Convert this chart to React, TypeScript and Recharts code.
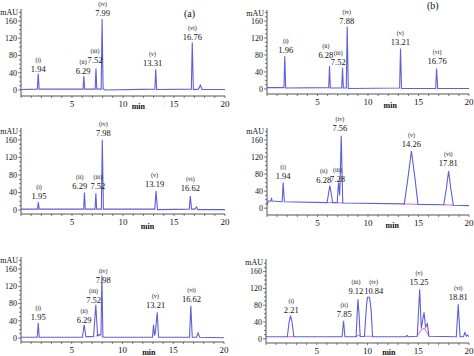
import { LineChart, Line, XAxis, YAxis, ReferenceDot } from "recharts";

const FONT = "'Liberation Serif', 'Times New Roman', serif";
const TRACE = "#5f5fd8";
const PINK = "#e060e0";
const AXIS = "#555";
const INK = "#111";

const xTicks = [0, 1, 2, 3, 4, 5, 6, 7, 8, 9, 10, 11, 12, 13, 14, 15, 16, 17, 18, 19, 20];
const yTicks = [0, 10, 20, 30, 40, 50, 60, 70, 80, 90, 100, 110, 120, 130, 140, 150, 160, 170, 180];
const peakTags = ["(i)", "(ii)", "(iii)", "(iv)", "(v)", "(vi)"];

// (a) top left
const timeA = [0, 1.6, 1.69, 1.78, 6.08, 6.16, 6.24, 7.27, 7.35, 7.43, 7.86, 7.95, 8.05, 8.2, 13.12, 13.21, 13.3, 16.7, 16.79, 16.9, 17.4, 17.58, 17.75, 20];
const mauA = [1, 2, 38, 2, 2, 32, 2, 2, 50, 2, 2, 165, 3, 0, 2, 48, 1, 2, 110, 1, 2, 11, 1, 1];
const rtA = ["1.94", "6.29", "7.52", "7.99", "13.31", "16.76"];
const labelTimeA = [1.69, 6.09, 7.25, 8.0, 12.9, 16.8];
const labelMauA = [42, 38, 62, 172, 56, 115];

// (b) top right
const timeB = [0, 1.68, 1.76, 1.85, 6.11, 6.19, 6.27, 7.4, 7.48, 7.56, 7.85, 7.94, 8.05, 13.13, 13.22, 13.32, 16.7, 16.79, 16.9, 20];
const mauB = [3, 3, 77, 2, 3, 54, 2, 2, 50, 2, 2, 147, 1, 2, 95, 1, 1, 48, 1, 1];
const rtB = ["1.96", "6.28", "7.52", "7.88", "13.21", "16.76"];
const labelTimeB = [1.86, 5.83, 7.05, 7.9, 13.2, 16.85];
const labelMauB = [85, 73, 56, 154, 103, 58];

// middle left
const timeC = [0, 1.62, 1.7, 1.78, 6.14, 6.22, 6.3, 7.26, 7.34, 7.42, 7.88, 7.97, 8.08, 13.12, 13.24, 13.38, 16.5, 16.6, 16.72, 17.05, 17.2, 17.35, 20];
const mauC = [2, 2, 18, 2, 2, 40, 2, 2, 38, 2, 2, 160, 2, 2, 44, 1, 2, 32, 2, 2, 7, 1, 1];
const rtC = ["1.95", "6.29", "7.52", "7.98", "13.19", "16.62"];
const labelTimeC = [1.77, 5.76, 7.54, 8.07, 13.1, 16.6];
const labelMauC = [25, 49, 47, 168, 53, 43];

// middle right
const timeD = [0, 0.15, 0.4, 0.45, 0.5, 1.5, 1.6, 1.72, 5.95, 6.1, 6.22, 6.35, 6.5, 6.95, 7.08, 7.2, 7.35, 7.5, 13.6, 13.95, 14.3, 14.65, 14.95, 17.5, 17.75, 17.98, 18.2, 18.45, 20];
const mauD = [8, 17, 17, 24, 17, 15, 60, 15, 13, 35, 53, 35, 13, 13, 60, 30, 170, 12, 10, 70, 134, 70, 9, 8, 45, 87, 45, 7, 6];
const pinkTimeD = [5.9, 6.6, 6.6, 6.95, 7.55, 7.55, 13.45, 14.95, 14.95, 17.45, 18.5];
const pinkMauD = [13, 13, null, 13, 12, null, 10, 9, null, 8, 7];
const rtD = ["1.94", "6.28", "7.28", "7.56", "14.26", "17.81"];
const labelTimeD = [1.6, 5.62, 6.98, 7.21, 14.3, 17.95];
const labelMauD = [69, 58, 61, 180, 143, 100];

// bottom left
const timeE = [0, 1.6, 1.7, 1.8, 6.05, 6.22, 6.4, 7.15, 7.37, 7.55, 7.8, 7.88, 7.97, 8.07, 8.2, 12.95, 13.06, 13.15, 13.22, 13.42, 13.55, 16.6, 16.73, 16.87, 17.3, 17.45, 17.6, 20];
const mauE = [2, 2, 35, 2, 2, 31, 3, 4, 77, 5, 8, 10, 145, 3, 2, 2, 31, 6, 10, 60, 2, 2, 75, 2, 2, 12, 2, 1];
const pinkTimeE = [7.35, 7.7, 8.05];
const pinkMauE = [4, 9, 3];
const rtE = ["1.95", "6.29", "7.52", "7.98", "13.21", "16.62"];
const labelTimeE = [1.7, 6.22, 7.15, 8.1, 13.26, 16.8];
const labelMauE = [42, 36, 82, 127, 70, 83];

// bottom right
const timeF = [0, 2.1, 2.28, 2.42, 2.56, 2.75, 7.5, 7.64, 7.78, 8.88, 8.98, 9.06, 9.16, 9.28, 9.7, 9.9, 10.0, 10.2, 10.35, 10.5, 13.8, 13.9, 14.0, 14.9, 15.14, 15.3, 15.57, 15.72, 15.9, 16.05, 18.75, 18.94, 19.12, 19.45, 19.6, 19.75, 19.85, 20];
const mauF = [5, 5, 40, 55, 40, 5, 5, 43, 5, 5, 60, 94, 60, 5, 6, 80, 99, 99, 70, 5, 5, 8, 5, 6, 118, 25, 63, 28, 36, 6, 5, 82, 5, 5, 15, 6, 9, 5];
const pinkTimeF = [2.05, 2.8, 2.8, 8.75, 9.35, 9.35, 9.55, 10.55, 10.55, 14.85, 15.3, 15.6, 16.1];
const pinkMauF = [5, 5, null, 5, 10, null, 6, 6, null, 5, 22, 25, 5];
const rtF = ["2.21", "7.85", "9.12", "10.84", "15.25", "18.81"];
const labelTimeF = [2.49, 7.71, 8.86, 10.61, 15.07, 18.94];
const labelMauF = [61, 51, 107, 107, 127, 93];

const YTick = (props: any) => {
  const { x, y, payload } = props;
  const major = payload.value % 40 === 0;
  return (
    <g>
      <line x1={x - (major ? 3 : 2)} x2={x} y1={y} y2={y} stroke={AXIS} strokeWidth={0.8} />
      {major && (
        <text x={x - 4} y={y} dy="0.35em" textAnchor="end" fontSize={8} fontFamily={FONT} fill={INK}>
          {payload.value}
        </text>
      )}
    </g>
  );
};

const XTick = (props: any) => {
  const { x, y, payload } = props;
  const major = payload.value % 5 === 0 && payload.value > 0;
  return (
    <g>
      <line x1={x} x2={x} y1={y} y2={y + 2} stroke={AXIS} strokeWidth={0.8} />
      {major && (
        <text x={x} y={y + 11} textAnchor="middle" fontSize={9} fontFamily={FONT} fill={INK}>
          {payload.value}
        </text>
      )}
    </g>
  );
};

type Box = { left: number; top: number; width: number; height: number };
type Plot = { left: number; right: number; top: number; bottom: number };

type PanelProps = {
  box: Box;
  plot: Plot;
  yDomain: [number, number];
  times: number[];
  mau: number[];
  pinkTimes?: number[];
  pinkMau?: (number | null)[];
  rts: string[];
  labelTimes: number[];
  labelMau: number[];
  minAt: number;
  minDrop: number;
};

function Panel(p: PanelProps) {
  const data = p.times.map((t, i) => ({ t, v: p.mau[i] }));
  const pink = (p.pinkTimes || []).map((t, i) => ({ t, v: p.pinkMau![i] }));
  return (
    <div style={{ position: "absolute", left: p.box.left, top: p.box.top }}>
      <LineChart
        width={p.box.width}
        height={p.box.height}
        data={data}
        margin={{
          top: p.plot.top - p.box.top,
          right: p.box.left + p.box.width - p.plot.right,
          bottom: 0,
          left: 0,
        }}
      >
        <XAxis
          dataKey="t"
          type="number"
          domain={[0, 20]}
          ticks={xTicks}
          interval={0}
          tickSize={0}
          tickMargin={0}
          tick={XTick}
          stroke={AXIS}
          height={p.box.top + p.box.height - p.plot.bottom}
          allowDataOverflow
        />
        <YAxis
          type="number"
          domain={p.yDomain}
          ticks={yTicks}
          interval={0}
          tickSize={0}
          tickMargin={0}
          tick={YTick}
          stroke={AXIS}
          width={p.plot.left - p.box.left}
          allowDataOverflow
        />
        {pink.length > 0 && (
          <Line data={pink} dataKey="v" stroke={PINK} strokeWidth={1} dot={false} activeDot={false} isAnimationActive={false} connectNulls={false} />
        )}
        <Line dataKey="v" stroke={TRACE} strokeWidth={1.1} dot={false} activeDot={false} isAnimationActive={false} />
        {p.rts.map((rt, i) => (
          <ReferenceDot
            key={rt + i}
            x={p.labelTimes[i]}
            y={p.labelMau[i]}
            r={0}
            ifOverflow="visible"
            shape={(s: any) => (
              <g>
                <text x={s.cx} y={s.cy - 10} textAnchor="middle" fontSize={6} fontFamily={FONT} fill={INK}>
                  {peakTags[i]}
                </text>
                <text x={s.cx} y={s.cy} textAnchor="middle" fontSize={8.5} fontFamily={FONT} fill={INK}>
                  {rt}
                </text>
              </g>
            )}
          />
        ))}
        <ReferenceDot
          x={p.minAt}
          y={p.yDomain[0]}
          r={0}
          ifOverflow="visible"
          shape={(s: any) => (
            <text x={s.cx} y={s.cy + p.minDrop} textAnchor="middle" fontSize={8} fontWeight="bold" fontFamily={FONT} fill={INK}>
              min
            </text>
          )}
        />
        <ReferenceDot
          x={0}
          y={p.yDomain[1]}
          r={0}
          ifOverflow="visible"
          shape={(s: any) => (
            <text x={s.cx - 3} y={s.cy + 6} textAnchor="end" fontSize={8} fontFamily={FONT} fill={INK}>
              mAU
            </text>
          )}
        />
      </LineChart>
    </div>
  );
}

export default function App() {
  return (
    <div style={{ position: "absolute", left: 0, top: 0, width: 474, height: 356, background: "#fff", overflow: "hidden" }}>
      <Panel
        box={{ left: 0, top: 0, width: 237, height: 115 }}
        plot={{ left: 21, right: 225, top: 9, bottom: 96 }}
        yDomain={[-14, 188]}
        times={timeA}
        mau={mauA}
        rts={rtA}
        labelTimes={labelTimeA}
        labelMau={labelMauA}
        minAt={11.5}
        minDrop={13}
      />
      <Panel
        box={{ left: 237, top: 0, width: 237, height: 115 }}
        plot={{ left: 267, right: 469, top: 10, bottom: 94 }}
        yDomain={[-12, 186]}
        times={timeB}
        mau={mauB}
        rts={rtB}
        labelTimes={labelTimeB}
        labelMau={labelMauB}
        minAt={12.2}
        minDrop={14}
      />
      <Panel
        box={{ left: 0, top: 115, width: 237, height: 120 }}
        plot={{ left: 21, right: 225, top: 128, bottom: 214 }}
        yDomain={[-9, 187]}
        times={timeC}
        mau={mauC}
        rts={rtC}
        labelTimes={labelTimeC}
        labelMau={labelMauC}
        minAt={12.4}
        minDrop={15}
      />
      <Panel
        box={{ left: 237, top: 115, width: 237, height: 120 }}
        plot={{ left: 267, right: 469, top: 128, bottom: 215 }}
        yDomain={[-16, 188]}
        times={timeD}
        mau={mauD}
        pinkTimes={pinkTimeD}
        pinkMau={pinkMauD}
        rts={rtD}
        labelTimes={labelTimeD}
        labelMau={labelMauD}
        minAt={12.4}
        minDrop={13}
      />
      <Panel
        box={{ left: 0, top: 235, width: 237, height: 121 }}
        plot={{ left: 21, right: 224, top: 257, bottom: 342 }}
        yDomain={[-9, 188]}
        times={timeE}
        mau={mauE}
        pinkTimes={pinkTimeE}
        pinkMau={pinkMauE}
        rts={rtE}
        labelTimes={labelTimeE}
        labelMau={labelMauE}
        minAt={12.6}
        minDrop={13}
      />
      <Panel
        box={{ left: 237, top: 235, width: 237, height: 121 }}
        plot={{ left: 266, right: 469, top: 259, bottom: 343 }}
        yDomain={[-10, 190]}
        times={timeF}
        mau={mauF}
        pinkTimes={pinkTimeF}
        pinkMau={pinkMauF}
        rts={rtF}
        labelTimes={labelTimeF}
        labelMau={labelMauF}
        minAt={12.1}
        minDrop={12}
      />
      <div style={{ position: "absolute", left: 184, top: 8, fontFamily: FONT, fontSize: 10, lineHeight: "12px", color: INK }}>(a)</div>
      <div style={{ position: "absolute", left: 427, top: 0, fontFamily: FONT, fontSize: 10, lineHeight: "12px", color: INK }}>(b)</div>
    </div>
  );
}
